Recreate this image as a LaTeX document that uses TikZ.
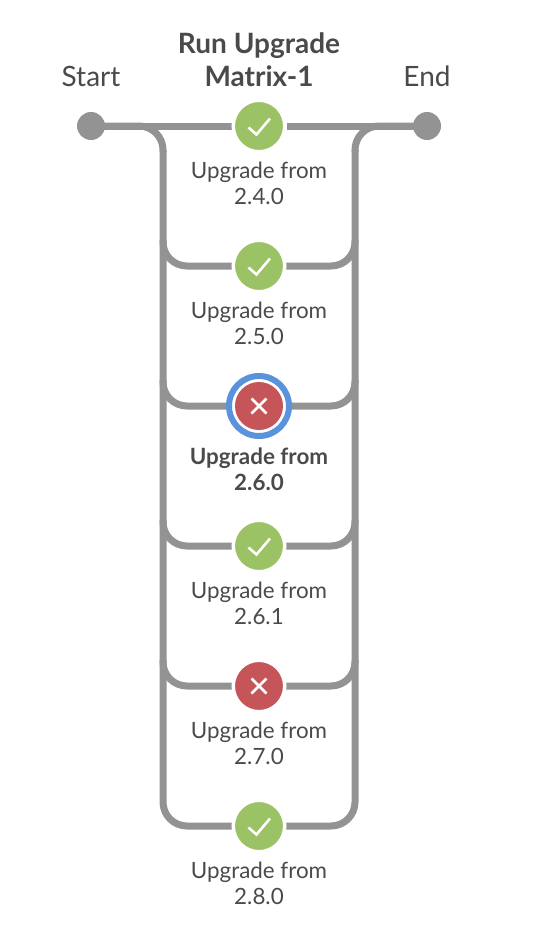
\documentclass[tikz,border=0pt]{standalone}
\usepackage{fontspec}
\setmainfont{Lato}
\usetikzlibrary{backgrounds}
\definecolor{okgreen}{HTML}{9BC264}
\definecolor{badred}{HTML}{C65559}
\definecolor{selblue}{HTML}{5A92DC}
\definecolor{linegray}{HTML}{949393}
\definecolor{textgray}{HTML}{4A4A4A}
\tikzset{
  x=1pt,y=-1pt,
  conn/.style={draw=linegray,line width=7pt},
  curved conn/.style={conn,rounded corners=24pt},
  dot/.style={circle,fill=linegray,minimum size=28pt,inner sep=0pt},
  stat/.style={circle,draw=white,line width=3.5pt,minimum size=51.5pt,inner sep=0pt},
  okstat/.style={stat,fill=okgreen},
  badstat/.style={stat,fill=badred},
  selring/.style={circle,draw=selblue,fill=white,line width=6pt,minimum size=60pt,inner sep=0pt},
  txt/.style={text=textgray,inner sep=0pt,align=center,font=\fontsize{22.4}{26}\selectfont},
  big/.style={txt,anchor=base,font=\fontsize{28}{33}\selectfont},
  lbl/.style={txt,anchor=north},
  glyph/.style={draw=white,line width=2.6pt},
}
\newcommand{\okmark}[1]{\draw[glyph] ([shift={(-10.5,1.5)}]#1.center) -- ([shift={(-2.5,8.5)}]#1.center) -- ([shift={(11,-7.5)}]#1.center);}
\newcommand{\badmark}[1]{\draw[glyph] ([shift={(-7.5,-7.5)}]#1.center) -- ([shift={(7.5,7.5)}]#1.center) ([shift={(-7.5,7.5)}]#1.center) -- ([shift={(7.5,-7.5)}]#1.center);}
\begin{document}
\begin{tikzpicture}
\useasboundingbox (0,0) rectangle (533,951);
\node[dot] (start) at (91,126) {};
\node[dot] (end) at (427,126) {};
\node[okstat] (s1) at (259,126) {};
\node[okstat] (s2) at (259,266) {};
\node[selring] (ring) at (259,406) {};
\node[circle,fill=badred,minimum size=48pt,inner sep=0pt] (s3) at (259,406) {};
\node[okstat] (s4) at (259,546) {};
\node[badstat] (s5) at (259,686) {};
\node[okstat] (s6) at (259,826) {};
\coordinate (lt) at (163,152);
\coordinate (rt) at (355,152);
\coordinate (lv) at (163,150);
\coordinate (rv) at (355,150);
\begin{scope}[on background layer]
\draw[conn] (start.center) -- (s1) -- (end.center);
\draw[curved conn] (start.center) -| (lt);
\draw[curved conn] (end.center) -| (rt);
\draw[curved conn] (s6.center) -| (lv);
\draw[curved conn] (s6.center) -| (rv);
\foreach \n in {s2,ring,s4,s5}{
  \path (lv |- \n.center) ++(0,-26) coordinate (lc) (rv |- \n.center) ++(0,-26) coordinate (rc);
  \draw[curved conn] (\n.center) -| (lc);
  \draw[curved conn] (\n.center) -| (rc);
}
\end{scope}
\okmark{s1}\okmark{s2}\badmark{s3}\okmark{s4}\badmark{s5}\okmark{s6}
\node[big] (tstart) at (91,86) {Start};
\node[big] (tend) at (427,86) {End};
\node[big,font=\fontsize{28}{33}\selectfont\bfseries] (title1) at (259,53) {Run Upgrade};
\node[big,font=\fontsize{28}{33}\selectfont\bfseries] (title2) at (259,86) {Matrix-1};
\node[lbl] (l1) at (259,162) {Upgrade from\\2.4.0};
\node[lbl] (l2) at (259,302) {Upgrade from\\2.5.0};
\node[lbl,font=\fontsize{22.4}{26}\selectfont\bfseries] (l3) at (259,448) {Upgrade from\\2.6.0};
\node[lbl] (l4) at (259,582) {Upgrade from\\2.6.1};
\node[lbl] (l5) at (259,722) {Upgrade from\\2.7.0};
\node[lbl] (l6) at (259,862) {Upgrade from\\2.8.0};
\end{tikzpicture}
\end{document}
